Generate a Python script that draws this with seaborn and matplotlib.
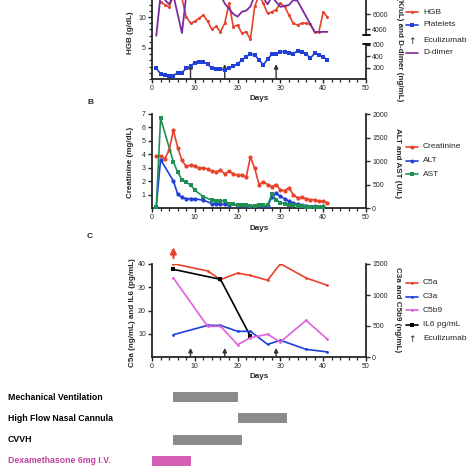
import matplotlib
matplotlib.use('Agg')
import matplotlib.pyplot as plt
import matplotlib.transforms as mtransforms
from matplotlib.lines import Line2D
from matplotlib.ticker import MultipleLocator, FixedLocator
import seaborn as sns

# ---------------- data ----------------
# Panel A
hgb_days = list(range(2, 42))
hgb = [12.4, 12.0, 11.6, 13.5, 13.5, 13.0, 10.0, 9.0, 9.3, 9.8, 10.3, 9.3, 8.0, 8.5,
       7.6, 9.0, 12.2, 8.4, 8.7, 7.4, 7.6, 6.4, 11.7, 13.5, 12.2, 10.6, 10.8, 11.2,
       12.2, 11.7, 10.3, 9.0, 8.7, 9.0, 9.0, 8.8, 7.6, 7.6, 10.8, 10.0]
plt_days = list(range(1, 42))
platelets = [190, 87, 70, 58, 58, 110, 110, 186, 226, 284, 302, 296, 255, 186, 168,
             168, 157, 186, 226, 261, 331, 389, 435, 418, 331, 244, 342, 435, 435,
             476, 476, 447, 435, 493, 476, 435, 360, 447, 418, 389, 325]
dd_days = [1, 2, 4, 5, 7, 8, 16, 17, 18, 19, 20, 21, 22, 23, 24, 26, 27, 28, 30, 32,
           33, 34, 38, 41]
ddimer = [3100, 8500, 7300, 8500, 3450, 8500, 8500, 7400, 6700, 6000, 5650, 6300,
          6450, 7000, 8500, 8200, 7300, 8300, 6950, 7200, 7850, 7750, 3600, 3620]
ecu_days = [9, 17, 29]

# Panel B
cr_days = list(range(1, 42))
creatinine = [3.85, 3.85, 3.67, 4.3, 5.8, 4.5, 3.55, 3.1, 3.2, 3.15, 2.95, 3.0, 2.9,
              2.75, 2.7, 2.8, 2.55, 2.75, 2.55, 2.45, 2.45, 2.3, 3.8, 2.95, 1.75, 1.95,
              1.75, 1.6, 1.75, 1.35, 1.3, 1.5, 1.0, 0.75, 0.8, 0.7, 0.62, 0.62, 0.5,
              0.52, 0.4]
alt_days = [1, 2, 5, 6, 7, 8, 9, 10, 12, 14, 15, 16, 17, 18, 20, 22, 24, 26, 27, 28,
            29, 30, 31, 32, 33, 34, 35, 36, 38, 40]
alt = [20, 1030, 575, 295, 225, 195, 200, 195, 165, 95, 80, 80, 80, 72, 60, 50, 45,
       40, 35, 237, 310, 250, 195, 145, 108, 80, 65, 50, 40, 35]
ast_days = [1, 2, 5, 6, 7, 8, 9, 10, 12, 14, 15, 16, 17, 18, 19, 20, 21, 22, 23, 24,
            25, 26, 27, 28, 29, 30, 31, 32, 33, 34, 35, 36, 37, 38, 39, 40]
ast = [20, 1910, 980, 760, 600, 550, 490, 380, 240, 165, 150, 150, 150, 95, 80, 72,
       65, 58, 50, 50, 58, 58, 58, 290, 180, 110, 95, 72, 58, 50, 35, 30, 30, 25, 25, 25]

# Panel C
cmp_days = [5, 13, 16, 20, 23, 27, 30, 36, 41]
c5a = [40.1, 37.0, 33.3, 36.1, 35.1, 33.0, 40.1, 34.0, 30.8]
c3a = [360, 510, 510, 414, 414, 204, 269, 124, 81]
c5b9 = [1274, 495, 495, 199, 312, 366, 242, 591, 285]
il6_days = [5, 16, 23]
il6 = [37.7, 33.4, 8.9]

# Treatments
treatments = ["Mechanical Ventilation", "High Flow Nasal Cannula", "CVVH",
              "Dexamethasone 6mg I.V."]
treat_start = [5, 20, 5, 0]
treat_end = [20, 31.5, 21, 9]

# ---------------- style ----------------
sns.set_style('ticks')
plt.rcParams['font.family'] = ['Liberation Sans', 'DejaVu Sans']
plt.rcParams['axes.linewidth'] = 1.3
plt.rcParams['xtick.major.width'] = 1.0
plt.rcParams['ytick.major.width'] = 1.0
plt.rcParams['xtick.minor.width'] = 0.9
plt.rcParams['ytick.minor.width'] = 0.9
plt.rcParams['xtick.major.size'] = 3
plt.rcParams['ytick.major.size'] = 3
plt.rcParams['xtick.minor.size'] = 2
plt.rcParams['ytick.minor.size'] = 2
plt.rcParams['xtick.major.pad'] = 1.5
plt.rcParams['ytick.major.pad'] = 1.5

RED = '#e8412c'
BLUE = '#1f3fd6'
GREEN = '#1f8f55'
PURPLE = '#7b2d9b'
MAGENTA = '#e060e0'
GRAY = '#8c8c8c'
PINK = '#d45fb5'
TICK_FS = 5
LAB_FS = 5.8
LEG_FS = 6

W = H = 474.0
fig = plt.figure(figsize=(4.74, 4.74), dpi=100)


def fx(px):
    return px / W


def fy(py):
    return 1 - py / H


def rect(x0, y0, x1, y1):
    return [fx(x0), fy(y1), (x1 - x0) / W, (y1 - y0) / H]


def base_style(ax):
    ax.spines['top'].set_visible(False)
    ax.spines['right'].set_visible(False)
    ax.set_xlim(0, 50)
    ax.xaxis.set_major_locator(MultipleLocator(10))
    ax.xaxis.set_minor_locator(MultipleLocator(2))
    ax.tick_params(labelsize=TICK_FS)
    ax.set_xlabel('')
    ax.set_ylabel('')


def right_style(ax):
    for s in ['top', 'left', 'bottom']:
        ax.spines[s].set_visible(False)
    ax.spines['right'].set_visible(True)
    ax.tick_params(labelsize=TICK_FS)
    ax.set_ylabel('')


def line(ax, x, y, color, marker, ms, lw=1.2):
    sns.lineplot(x=x, y=y, ax=ax, color=color, marker=marker, markersize=ms,
                 markeredgewidth=0, linewidth=lw, legend=False, errorbar=None)


XL, XR = 152, 366

# ---------------- Panel A ----------------
axA = fig.add_axes(rect(XL, 0, XR, 79))
line(axA, hgb_days, hgb, RED, 'o', 2.2)
base_style(axA)
axA.set_ylim(0, 79 / 6.2)
axA.yaxis.set_major_locator(FixedLocator([5, 10, 15]))
axA.yaxis.set_minor_locator(MultipleLocator(1))

axP = axA.twinx()
line(axP, plt_days, platelets, BLUE, 's', 2.6)
right_style(axP)
axP.set_ylim(0, 79 * 200 / 11.5)
axP.spines['right'].set_bounds(0, 600)
axP.yaxis.set_major_locator(FixedLocator([200, 400, 600]))

axD = axA.twinx()
line(axD, dd_days, ddimer, PURPLE, None, 0, lw=1.3)
right_style(axD)
d_per_px = 2000 / 15
axD.set_ylim(4000 - 50 * d_per_px, 4000 + 29 * d_per_px)
axD.spines['right'].set_bounds(4000 - 6 * d_per_px, 4000 + 29 * d_per_px)
axD.yaxis.set_major_locator(FixedLocator([4000, 6000, 8000]))
axD.set_xlim(0, 50)
axP.set_xlim(0, 50)

for d in ecu_days:
    axA.annotate('', xy=(d, 2.4), xytext=(d, 0),
                 arrowprops=dict(arrowstyle='-|>', color='#333333', lw=1.0,
                                 mutation_scale=6, shrinkA=0, shrinkB=0))

# break caps on right axis
for py in (35, 44):
    fig.add_artist(Line2D([fx(XR - 3.5), fx(XR + 3.5)], [fy(py), fy(py)],
                          color='black', lw=1.3))

# ---------------- Panel B ----------------
axB = fig.add_axes(rect(XL, 114, XR, 208))
line(axB, cr_days, creatinine, RED, 'o', 3.0)
base_style(axB)
axB.set_ylim(0, 7)
axB.yaxis.set_major_locator(FixedLocator([1, 2, 3, 4, 5, 6, 7]))

axB2 = axB.twinx()
line(axB2, alt_days, alt, BLUE, 'o', 3.0)
line(axB2, ast_days, ast, GREEN, 's', 3.0)
right_style(axB2)
axB2.set_ylim(0, 2000)
axB2.yaxis.set_major_locator(FixedLocator([0, 500, 1000, 1500, 2000]))
axB2.set_xlim(0, 50)

# ---------------- Panel C ----------------
axC = fig.add_axes(rect(XL, 264, XR, 357))
line(axC, cmp_days, c5a, RED, 'o', 2.0)
line(axC, il6_days, il6, 'black', 's', 2.4)
base_style(axC)
axC.set_ylim(0, 40)
axC.yaxis.set_major_locator(FixedLocator([10, 20, 30, 40]))

axC2 = axC.twinx()
line(axC2, cmp_days, c3a, BLUE, 'o', 2.0)
line(axC2, cmp_days, c5b9, MAGENTA, 'o', 2.0)
right_style(axC2)
axC2.set_ylim(0, 1500)
axC2.yaxis.set_major_locator(FixedLocator([0, 500, 1000, 1500]))
axC2.set_xlim(0, 50)

for d in ecu_days:
    axC.annotate('', xy=(d, 3.9), xytext=(d, 0),
                 arrowprops=dict(arrowstyle='-|>', color='#333333', lw=1.0,
                                 mutation_scale=6, shrinkA=0, shrinkB=0))
axC.annotate('', xy=(cmp_days[0], 47.2), xytext=(cmp_days[0], 42.5),
             annotation_clip=False,
             arrowprops=dict(arrowstyle='-|>', color=RED, lw=1.5,
                             mutation_scale=9, shrinkA=0, shrinkB=0))

# ---------------- axis labels ----------------
lab = dict(fontsize=LAB_FS, fontweight='bold', ha='center', va='center')
fig.text(fx(130), fy(33), 'HGB (g/dL)', rotation=90, **lab)
fig.text(fx(130), fy(162), 'Creatinine (mg/dL)', rotation=90, **lab)
fig.text(fx(132), fy(313), 'C5a (ng/mL) and IL6 (pg/mL)', rotation=90, **lab)
fig.text(fx(400), fy(32), 'Platelets (K/uL) and D-dimer (ng/mL)', rotation=270, **lab)
fig.text(fx(398), fy(163), 'ALT and AST (U/L)', rotation=270, **lab)
fig.text(fx(397), fy(310), 'C3a and C5b9 (ng/mL)', rotation=270, **lab)
for py in (98, 228, 377):
    fig.text(fx((XL + XR) / 2), fy(py), 'Days', **lab)
fig.text(fx(90), fy(103), 'B', fontsize=6, fontweight='bold', ha='center', va='center')
fig.text(fx(90), fy(237), 'C', fontsize=6, fontweight='bold', ha='center', va='center')


# ---------------- legends (manual) ----------------
def leg_line(py, label, color, marker, ms):
    fig.add_artist(Line2D([fx(406), fx(418)], [fy(py), fy(py)], color=color, lw=1.2))
    if marker:
        fig.add_artist(Line2D([fx(412)], [fy(py)], color=color, marker=marker,
                              markersize=ms, markeredgewidth=0))
    fig.text(fx(423), fy(py), label, fontsize=LEG_FS, ha='left', va='center')


def leg_arrow(py, label):
    fig.text(fx(412), fy(py), '\u2191', fontsize=6.5, ha='center', va='center',
             family=['DejaVu Sans'])
    fig.text(fx(423), fy(py), label, fontsize=LEG_FS, ha='left', va='center')


leg_line(12, 'HGB', RED, 'o', 2.2)
leg_line(25, 'Platelets', BLUE, 's', 2.4)
leg_arrow(41, 'Eculizumab')
leg_line(53, 'D-dimer', PURPLE, None, 0)

leg_line(147, 'Creatinine', RED, 'o', 2.8)
leg_line(161, 'ALT', BLUE, 'o', 2.8)
leg_line(174, 'AST', GREEN, 's', 2.8)

leg_line(283, 'C5a', RED, 'o', 2)
leg_line(297, 'C3a', BLUE, 'o', 2)
leg_line(310, 'C5b9', MAGENTA, 'o', 2)
leg_line(325, 'IL6 pg/mL', 'black', 's', 2.2)
leg_arrow(339, 'Eculizumab')

# ---------------- treatment timeline ----------------
row0, row_gap = 397, 21.3
top_px, bot_px = 386, 472
axG = fig.add_axes(rect(XL, top_px, XR, bot_px))
axG.set_xlim(0, 50)
axG.set_ylim((bot_px - row0) / row_gap, (top_px - row0) / row_gap)
axG.axis('off')
colors = [GRAY, GRAY, GRAY, PINK]
for i, (name, s, e) in enumerate(zip(treatments, treat_start, treat_end)):
    axG.barh(i, e - s, left=s, height=10 / row_gap, color=colors[i], linewidth=0)
    tr = mtransforms.blended_transform_factory(fig.transFigure, axG.transData)
    axG.text(fx(8), i, name, transform=tr, fontsize=6.3, fontweight='bold',
             ha='left', va='center',
             color=('#c040a0' if i == len(treatments) - 1 else 'black'))

fig.savefig('out.png', dpi=100)
